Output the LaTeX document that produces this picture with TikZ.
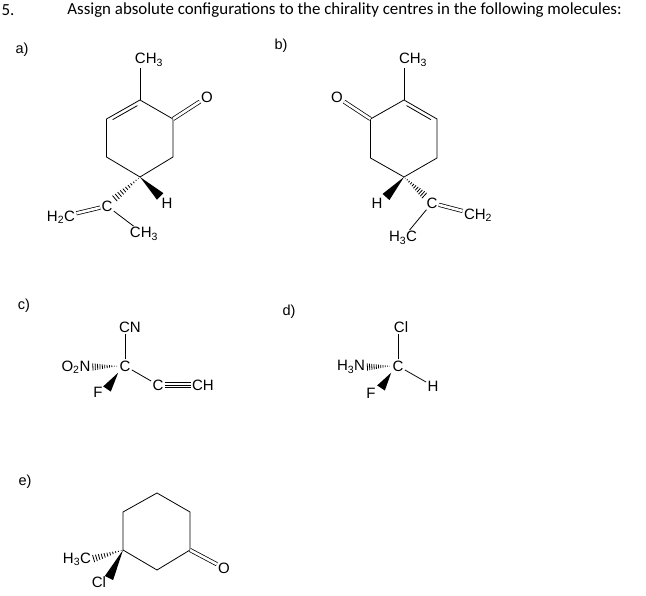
\documentclass[tikz,border=0pt]{standalone}
\usepackage{fontspec}
\setmainfont{Liberation Sans}
\newfontfamily\calibrifont{Carlito}
\usetikzlibrary{calc}
\newcommand{\hashbond}[2]{%
  \foreach \t in {0.06,0.15,...,0.98}{
    \draw[line width=0.8pt] ($(#1)!\t!(#2)!\t*3.8pt!90:(#2)$) -- ($(#1)!\t!(#2)!\t*3.8pt!-90:(#2)$);
  }}
\newcommand{\wedgebond}[2]{%
  \fill (#1) -- ($(#2)!4.6pt!90:(#1)$) -- ($(#2)!4.6pt!-90:(#1)$) -- cycle;}
\newcommand{\ringbond}[2]{%
  \draw ($(#1)!.13!(#2)!3.6pt!90:(#2)$) -- ($(#2)!.13!(#1)!3.6pt!-90:(#1)$);}
\begin{document}
\begin{tikzpicture}[x=1pt, y=-1pt, line width=0.8pt]
  \tikzset{atom/.style={inner sep=1pt, font=\fontsize{15}{15}\selectfont},
           part/.style={inner sep=0pt, font=\fontsize{14.5}{15}\selectfont},
           head/.style={inner sep=0pt, font=\calibrifont\fontsize{16.9}{17}\selectfont},
           dbl/.style={double, double distance=2.6pt, line width=0.75pt},
           tpl/.style={double, double distance=4.6pt, line width=0.75pt}}
  \useasboundingbox (0,0) rectangle (646,596);
  \fill[white] (0,0) rectangle (646,596);
  % headings
  \node[head] (num) at (8,10) {5.};
  \node[head, anchor=west] (title) at (67,10) {Assign absolute configurations to the chirality centres in the following molecules:};
  \node[part] (la) at (22,50) {a)};
  \node[part] (lb) at (281,46) {b)};
  \node[part] (lc) at (24,306) {c)};
  \node[part] (ld) at (289,312) {d)};
  \node[part] (le) at (25,482) {e)};
  % molecule a
  \coordinate (a1) at (140,100);
  \coordinate (a2) at (173,119);
  \coordinate (a3) at (173,157);
  \coordinate (a4) at (140,177);
  \coordinate (a5) at (106.5,157);
  \coordinate (a6) at (106.5,119);
  \node[atom] (ame) at (149,60) {CH\textsubscript{3}};
  \node[atom] (ao) at (207,97) {O};
  \node[atom] (ac) at (107,206) {C};
  \node[atom] (ach) at (61,217) {H\textsubscript{2}C};
  \node[atom] (ame2) at (144,234) {CH\textsubscript{3}};
  \node[atom] (ah) at (167,203) {H};
  \draw (a1) -- (a2) -- (a3) -- (a4) -- (a5) -- (a6) -- (a1);
  \ringbond{a1}{a6}
  \draw (a1) -- (a1 |- ame.south);
  \draw[dbl] (a2) -- (ao);
  \draw[dbl] (ac) -- (ach);
  \draw (ac) -- (ame2);
  \hashbond{a4}{ac.north east}
  \wedgebond{a4}{ah.north west}
  % molecule b
  \coordinate (b1) at (404,100);
  \coordinate (b2) at (437,119);
  \coordinate (b3) at (437,158);
  \coordinate (b4) at (404,177);
  \coordinate (b5) at (370.5,158);
  \coordinate (b6) at (370.5,119);
  \coordinate (btip) at (386,197);
  \node[atom] (bme) at (413,60) {CH\textsubscript{3}};
  \node[atom] (bo) at (337,97) {O};
  \node[atom] (bc) at (432,203) {C};
  \node[atom] (bch) at (478,215) {CH\textsubscript{2}};
  \node[atom] (bme2) at (403,238) {H\textsubscript{3}C};
  \node[atom] (bh) at (377,203) {H};
  \draw (b1) -- (b2) -- (b3) -- (b4) -- (b5) -- (b6) -- (b1);
  \ringbond{b2}{b1}
  \draw (b1) -- (b1 |- bme.south);
  \draw[dbl] (b6) -- (bo);
  \draw[dbl] (bc) -- (bch);
  \draw (bc) -- (bme2);
  \hashbond{b4}{bc.north west}
  \wedgebond{b4}{btip}
  % molecule c
  \coordinate (ctip) at (107,389);
  \node[atom] (cc) at (125,366) {C};
  \node[atom] (ccn) at (130,327) {CN};
  \node[atom] (cno) at (76,367) {O\textsubscript{2}N};
  \node[atom] (cf) at (98,392) {F};
  \node[atom] (cc2) at (158,385) {C};
  \node[atom] (cch) at (203,385) {CH};
  \draw (cc) -- (cc |- ccn.south);
  \draw (cc) -- (cc2);
  \draw[tpl] (cc2) -- (cch);
  \draw (cc2) -- (cch);
  \hashbond{cc.west}{cno.east}
  \wedgebond{cc.south west}{ctip}
  % molecule d
  \coordinate (dtip) at (381,388);
  \node[atom] (dc) at (398,366) {C};
  \node[atom] (dcl) at (401,327) {Cl};
  \node[atom] (dnh) at (351,367) {H\textsubscript{3}N};
  \node[atom] (df) at (371,393) {F};
  \node[atom] (dh) at (433,386) {H};
  \draw (dc) -- (dc |- dcl.south);
  \draw (dc) -- (dh);
  \hashbond{dc.west}{dnh.east}
  \wedgebond{dc.south west}{dtip}
  % molecule e
  \coordinate (e1) at (157,493);
  \coordinate (e2) at (190,512);
  \coordinate (e3) at (190,550);
  \coordinate (e4) at (157,570);
  \coordinate (e5) at (123,550);
  \coordinate (e6) at (123,512);
  \coordinate (etip) at (109,578);
  \node[atom] (eo) at (224,568) {O};
  \node[atom] (eme) at (77,559) {H\textsubscript{3}C};
  \node[atom] (ecl) at (99,582) {Cl};
  \draw (e1) -- (e2) -- (e3) -- (e4) -- (e5) -- (e6) -- (e1);
  \draw[dbl] (e3) -- (eo);
  \hashbond{e5}{eme.east}
  \wedgebond{e5}{etip}
\end{tikzpicture}
\end{document}
